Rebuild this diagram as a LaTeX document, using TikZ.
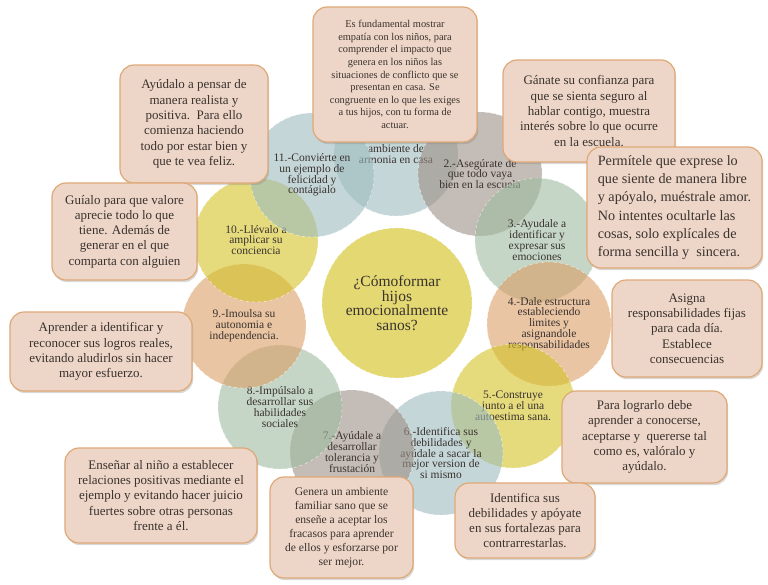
\documentclass[tikz,border=0pt]{standalone}
\usepackage{fontspec}
\setmainfont{Liberation Serif}
\usetikzlibrary{shadows}
\definecolor{txtgray}{RGB}{58,50,47}
\definecolor{boxfill}{RGB}{237,214,199}
\definecolor{boxedge}{RGB}{222,168,118}
\definecolor{ringyellow}{RGB}{212,195,38}
\definecolor{ringblue}{RGB}{157,187,190}
\definecolor{ringtaupe}{RGB}{157,143,133}
\definecolor{ringgreen}{RGB}{158,187,160}
\definecolor{ringorange}{RGB}{218,158,102}

\tikzset{
  ring/.style={circle,draw=white,draw opacity=0.8,dashed,thin,
    fill opacity=0.6,text opacity=1,minimum size=124pt,inner sep=0pt,
    align=center,text=txtgray,font=\fontsize{11.5}{10.8}\selectfont},
  tipbox/.style={draw=boxedge,line width=1.2pt,fill=boxfill,rounded corners=14pt,
    align=center,text=txtgray,inner sep=4pt,font=\fontsize{13}{15.3}\selectfont,
    drop shadow={opacity=0.3,shadow xshift=1.2pt,shadow yshift=-2.2pt}},
}

\begin{document}
\begin{tikzpicture}[x=1pt,y=-1pt]
  \useasboundingbox (0,0) rectangle (768,584);

  % ring of circles
  \foreach \k/\cx/\cy/\col/\txt in {
    1/396/154/ringblue/{ambiente de\\armonia en casa},
    2/480/174/ringtaupe/{2.-Asegúrate de\\que todo vaya\\bien en la escuela},
    3/537/240/ringgreen/{3.-Ayudale a\\identificar y\\expresar sus\\emociones},
    4/549/324/ringorange/{4.-Dale estructura\\estableciendo\\limites y\\asignandole\\responsabilidades},
    5/513/406/ringyellow/{5.-Construye\\junto a el una\\autoestima sana.},
    6/441/453/ringblue/{6.-Identifica sus\\debilidades y\\ayúdale a sacar la\\mejor version de\\si mismo},
    7/352/452/ringtaupe/{7.-Ayúdale a\\desarrollar\\tolerancia y\\frustación},
    8/280/407/ringgreen/{8.-Impúlsalo a\\desarrollar sus\\habilidades\\sociales},
    9/244/326/ringorange/{9.-Imoulsa su\\autonomia e\\independencia.},
    10/256/240/ringyellow/{10.-Llévalo a\\amplicar su\\conciencia},
    11/312/175/ringblue/{11.-Conviérte en\\un ejemplo de\\felicidad y\\contágialo}} {
    \node[ring,fill=\col] (c\k) at (\cx,\cy) {\txt};
  }

  % centre
  \node[ring,fill=ringyellow,fill opacity=0.65,minimum size=150pt,
    font=\fontsize{15.5}{14.7}\selectfont] (ctr) at (397,303)
    {¿Cómoformar\\hijos\\emocionalmente\\sanos?};

  % advice boxes
  \node[tipbox,minimum width=164pt,minimum height=135pt,
    font=\fontsize{10.4}{12.6}\selectfont] (tA) at (395,74.5)
    {Es fundamental mostrar\\empatía con los niños, para\\comprender el impacto que\\genera en los niños las\\situaciones de conflicto que se\\presentan en casa. Se\\congruente en lo que les exiges\\a tus hijos, con tu forma de\\actuar.};
  \node[tipbox,minimum width=148pt,minimum height=118pt] (tB) at (194,124)
    {Ayúdalo a pensar de\\manera realista y\\positiva.\ \ Para ello\\comienza haciendo\\todo por estar bien y\\que te vea feliz.};
  \node[tipbox,minimum width=172pt,minimum height=102pt] (tC) at (589,111)
    {Gánate su confianza para\\que se sienta seguro al\\hablar contigo, muestra\\interés sobre lo que ocurre\\en la escuela.};
  \node[tipbox,minimum width=175pt,minimum height=121pt,align=left,
    font=\fontsize{14.2}{18.3}\selectfont] (tD) at (674.5,207.5)
    {Permítele que exprese lo\\que siente de manera libre\\y apóyalo, muéstrale amor.\\No intentes ocultarle las\\cosas, solo explícales de\\forma sencilla y\ \ sincera.};
  \node[tipbox,minimum width=145pt,minimum height=97pt] (tE) at (124.5,231.5)
    {Guíalo para que valore\\aprecie todo lo que\\tiene. Además de\\generar en el que\\comparta con alguien};
  \node[tipbox,minimum width=150pt,minimum height=97pt] (tF) at (687,328.5)
    {Asigna\\responsabilidades fijas\\para cada día.\\Establece\\consecuencias};
  \node[tipbox,minimum width=182pt,minimum height=79pt] (tG) at (101,351.5)
    {Aprender a identificar y\\reconocer sus logros reales,\\evitando aludirlos sin hacer\\mayor esfuerzo.};
  \node[tipbox,minimum width=165pt,minimum height=92pt] (tH) at (644.5,437)
    {Para lograrlo debe\\aprender a conocerse,\\aceptarse y\ \ quererse tal\\como es, valóralo y\\ayúdalo.};
  \node[tipbox,minimum width=192pt,minimum height=95pt] (tI) at (161,495.5)
    {Enseñar al niño a establecer\\relaciones positivas mediante el\\ejemplo y evitando hacer juicio\\fuertes sobre otras personas\\frente a él.};
  \node[tipbox,minimum width=143pt,minimum height=101pt,
    font=\fontsize{11.6}{14}\selectfont] (tJ) at (341.5,527.5)
    {Genera un ambiente\\familiar sano que se\\enseñe a aceptar los\\fracasos para aprender\\de ellos y esforzarse por\\ser mejor.};
  \node[tipbox,minimum width=140pt,minimum height=75pt] (tK) at (525,520.5)
    {Identifica sus\\debilidades y apóyate\\en sus fortalezas para\\contrarrestarlas.};
\end{tikzpicture}
\end{document}
